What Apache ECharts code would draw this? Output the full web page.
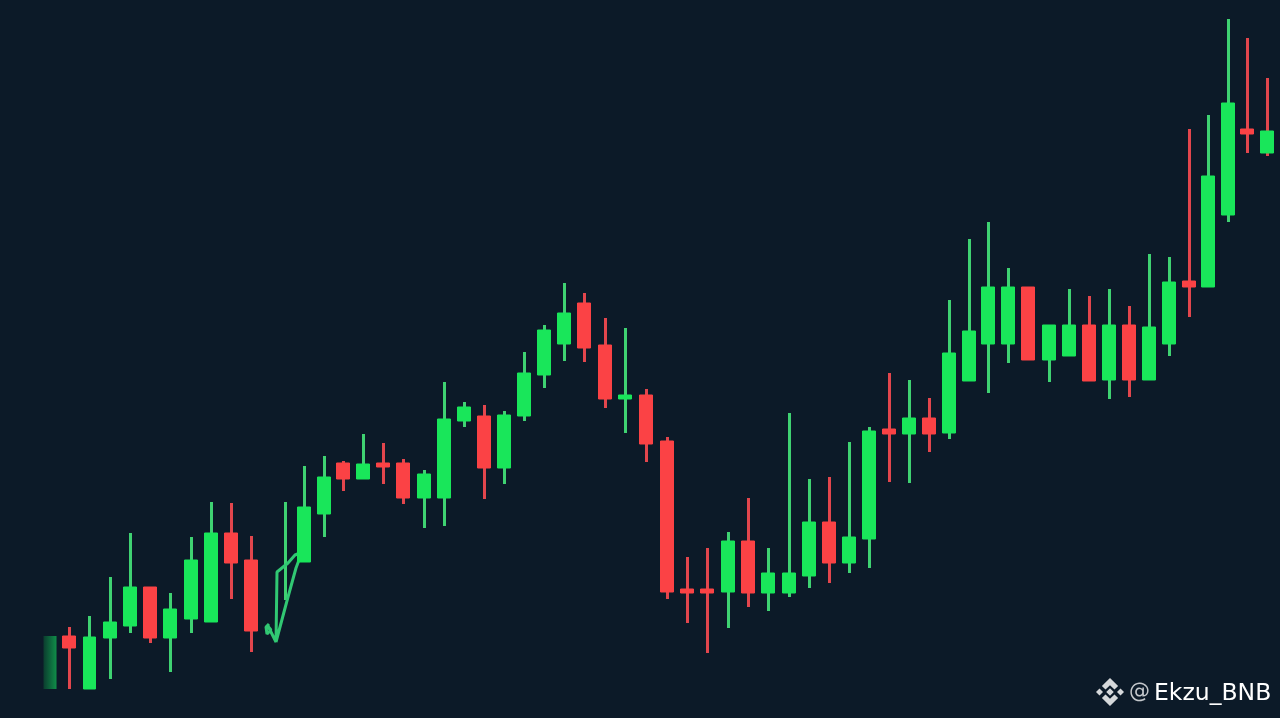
<!DOCTYPE html>
<html>
<head>
<meta charset="utf-8">
<style>html,body{margin:0;padding:0;background:#0c1a28}#c{width:1280px;height:718px}</style>
<script src="https://cdn.jsdelivr.net/npm/echarts@6/dist/echarts.min.js"></script>
</head>
<body>
<div id="c"></div>
<script>
const sessions = [69,89.5,110,130,150,170,191,211,231,251,285,304,324,343,363,383,403,424,444,464,484,504,524,544,564,584,605,625,646,667,687,707,728,748,768,789,809,829,849,869,889,909,929,949,969,988,1008,1028,1049,1069,1089,1109,1129,1149,1169,1189,1208,1228,1247,1267];
const opens  = [82,29,80,92,131,80,99,96,185,158,117,156,204,255,239,255,255,220,220,297,302,250,302,343,374,415,373,319,323,277,129,129,126,177,125,125,142,196,155,179,289,284,300,285,337,374,374,431,358,362,393,338,393,338,374,437,431,503,589,565];
const closes = [70,81,96,131,80,109,158,185,155,87,118,211,241,239,254,251,220,244,299,311,250,303,345,388,405,370,319,323,274,126,125,125,177,125,145,145,196,155,181,287,284,300,284,365,387,431,431,358,393,393,337,393,338,391,436,431,542,615,584,587];
const lows   = [29,29,39,85,75,46,85,96,119,66,118,156,181,227,239,234,214,190,192,291,219,234,297,330,357,356,310,285,256,119,95,65,90,111,107,121,130,135,145,150,236,235,266,279,337,325,355,358,336,362,337,319,321,338,362,401,431,496,565,562];
const highs  = [91,102,141,185,131,125,181,216,215,182,216,252,262,257,284,275,259,248,336,316,313,307,366,393,435,425,400,390,329,281,161,170,186,220,170,305,239,241,276,291,345,338,320,418,479,496,450,431,393,429,422,429,412,464,461,589,603,699,680,640];
const fadedCandle = [50,29,82,29,82];
const sketchX = [269,266,267,271,267,270,276,277,288,295,300,299,296,288,276];
const sketchY = [94,91,84,88,93,88,76,146,155,163,165,158,150,121,76];
const brand = 'Ekzu_BNB';

const UP='#19e65a', DOWN='#fb4245', WICK_UP='#3fd272', WICK_DOWN='#e2464d';
const rows = sessions.map((x,i)=>[x,opens[i],closes[i],lows[i],highs[i]]);
const wickRows = rows.map(r=>[r[0]+0.5,r[1],r[2],r[3],r[4]]);
const wickData = wickRows.map((r,i)=> i===rows.length-1
  ? {value:r,itemStyle:{color:WICK_DOWN,color0:WICK_DOWN,borderColor:WICK_DOWN,borderColor0:WICK_DOWN}} : r);
const bodyData = rows.filter(r=>Math.abs(r[1]-r[2])>1)
  .map(r=>[r[0],r[1],r[2],Math.min(r[1],r[2]),Math.max(r[1],r[2])]);
const fade = new echarts.graphic.LinearGradient(0,0,1,0,[{offset:0,color:'#0b3a2e'},{offset:1,color:'#10914a'}]);
bodyData.unshift({value:fadedCandle,itemStyle:{color:fade,borderColor:'rgba(0,0,0,0)'}});

const logo = {type:'group',x:1110,y:692,scaleX:14,scaleY:14,children:[
  [[0,-.27],[.27,0],[0,.27],[-.27,0]],
  [[-.75,-.25],[-.5,0],[-.75,.25],[-1,0]],
  [[.75,-.25],[1,0],[.75,.25],[.5,0]],
  [[0,-1],[.58,-.42],[.32,-.17],[0,-.49],[-.32,-.17],[-.58,-.42]],
  [[0,1],[.58,.42],[.32,.17],[0,.49],[-.32,.17],[-.58,.42]]
].map(p=>({type:'polygon',shape:{points:p},style:{fill:'#d5d8da'}}))};

const chart = echarts.init(document.getElementById('c'));
chart.setOption({
  animation:false,
  backgroundColor:'#0c1a28',
  grid:{left:0,right:0,top:0,bottom:0},
  xAxis:{type:'value',min:0,max:1280,show:false},
  yAxis:{type:'value',min:0,max:718,show:false},
  series:[
    {type:'candlestick',name:'wicks',barWidth:1,data:wickData,
      itemStyle:{color:WICK_UP,color0:WICK_DOWN,borderColor:WICK_UP,borderColor0:WICK_DOWN,borderWidth:3}},
    {type:'line',name:'sketch',data:sketchX.map((x,i)=>[x,sketchY[i]]),showSymbol:false,z:3,
      lineStyle:{color:'#31c873',width:3}},
    {type:'candlestick',name:'bodies',barWidth:13,data:bodyData,z:4,
      itemStyle:{color:UP,color0:DOWN,borderColor:UP,borderColor0:DOWN,borderWidth:1}}
  ],
  graphic:[logo,
    {type:'text',left:1129,top:682,style:{text:'@',fill:'#c4c8cc',font:'21px "DejaVu Sans"'}},
    {type:'text',left:1154,top:682,style:{text:brand,fill:'#ffffff',font:'23.5px "DejaVu Sans"'}}
  ]
});
</script>
</body>
</html>
